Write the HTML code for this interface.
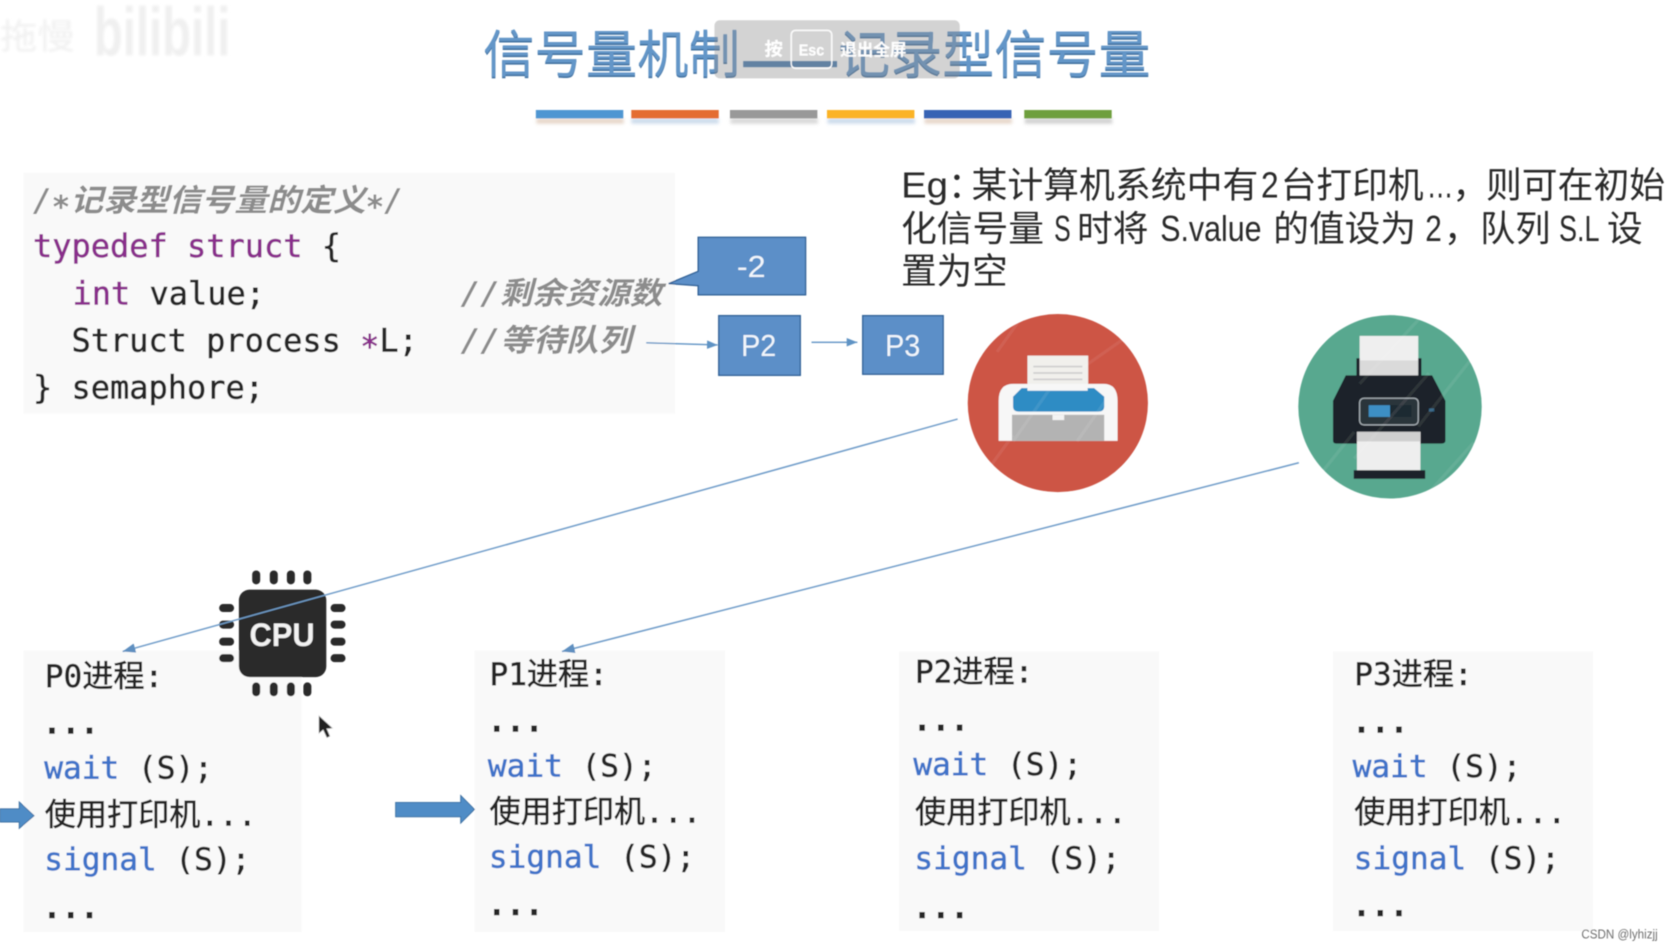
<!DOCTYPE html>
<html lang="zh">
<head>
<meta charset="utf-8">
<title>信号量机制——记录型信号量</title>
<style>
html,body{margin:0;padding:0;background:#fff;width:1671px;height:949px;overflow:hidden}
svg{display:block;position:absolute;left:0;top:0}
text{white-space:pre}
.m{font-family:"DejaVu Sans Mono","Noto Sans CJK SC",monospace;font-size:30px;fill:#252525;stroke:#252525;stroke-width:.55px}
.p{font-family:"DejaVu Sans Mono","Noto Sans CJK SC",monospace;font-size:29.2px;fill:#252525;stroke:#252525;stroke-width:.55px}
.d{stroke-width:1.5px}
.kw{fill:#8a2f8c;stroke:#8a2f8c}
.bl{fill:#3f73c9;stroke:#3f73c9}
.c{font-family:"DejaVu Sans Mono","Noto Sans CJK SC",monospace;font-size:29px;font-style:italic;font-weight:bold;fill:#8c8c8c}
.e{font-family:"Liberation Sans","Noto Sans CJK SC",sans-serif;font-size:33.5px;fill:#2a2a2a}
.b{font-family:"Liberation Sans",sans-serif;font-size:29px;fill:#f2f6fb}
.t{font-family:"Noto Sans CJK SC",sans-serif;font-size:48px}
</style>
</head>
<body>
<svg width="1671" height="949" viewBox="0 0 1567 890" preserveAspectRatio="none" xmlns="http://www.w3.org/2000/svg">
<defs>
<filter id="s" x="-5%" y="-5%" width="110%" height="110%"><feGaussianBlur stdDeviation="0.55"/></filter>
<filter id="w" x="-10%" y="-10%" width="120%" height="120%"><feGaussianBlur stdDeviation="1.2"/></filter>
<filter id="r" x="-10%" y="-100%" width="120%" height="400%"><feGaussianBlur stdDeviation="1.5"/></filter>
<marker id="a" markerWidth="12" markerHeight="10" refX="10" refY="4" orient="auto" markerUnits="userSpaceOnUse"><path d="M0 0L10 4L0 8z" fill="#5f93c4"/></marker>
<marker id="a2" markerWidth="14" markerHeight="10" refX="12" refY="4.5" orient="auto" markerUnits="userSpaceOnUse"><path d="M0 0L12 4.5L0 9z" fill="#5f8fc0"/></marker>
</defs>
<rect width="1567" height="890" fill="#fff"/>
<g filter="url(#s)">

<!-- watermark -->
<g filter="url(#w)" fill="#f0f0f0" font-family="Liberation Sans,Noto Sans CJK SC,sans-serif">
<text x="0" y="46" font-family="Noto Sans CJK SC,sans-serif" font-size="33" textLength="70" lengthAdjust="spacingAndGlyphs">拖慢</text>
<text x="88" y="52" font-size="64" font-weight="bold" textLength="128" lengthAdjust="spacingAndGlyphs">bilibili</text>
</g>

<!-- title -->
<g fill="#3f6f9f">
<text class="t" x="453" y="69.5" textLength="241" lengthAdjust="spacingAndGlyphs">信号量机制</text>
<text class="t" x="786" y="69.5" textLength="293" lengthAdjust="spacingAndGlyphs">记录型信号量</text>
</g>
<g fill="#6496c8">
<text class="t" x="453" y="68" textLength="241" lengthAdjust="spacingAndGlyphs">信号量机制</text>
<text class="t" x="786" y="68" textLength="293" lengthAdjust="spacingAndGlyphs">记录型信号量</text>
</g>
<text class="t" x="696" y="73.5" fill="#4a7cb0" stroke="#4a7cb0" stroke-width="2.6" textLength="90" lengthAdjust="spacingAndGlyphs">——</text>

<!-- esc overlay -->
<rect x="670" y="19" width="230" height="54.5" rx="5" fill="#8c8c8c" fill-opacity=".38"/>
<rect x="742" y="28.5" width="38" height="35.5" rx="4" fill="none" stroke="#fff" stroke-width="1.2"/>
<g fill="#fff" font-weight="bold" font-family="Noto Sans CJK SC,sans-serif" font-size="17">
<text x="717" y="52">按</text>
<text x="749" y="52" font-size="15" textLength="24" lengthAdjust="spacingAndGlyphs" font-family="Liberation Sans,sans-serif">Esc</text>
<text x="788" y="52" font-size="15.5" textLength="62" lengthAdjust="spacingAndGlyphs">退出全屏</text>
</g>

<!-- colour bars -->
<g filter="url(#r)" opacity=".45">
<rect x="503" y="111" width="82" height="5" fill="#c9a58a"/>
<rect x="592" y="111" width="82" height="5" fill="#8fb0d4"/>
<rect x="685" y="111" width="82" height="5" fill="#aaa"/>
<rect x="776" y="111" width="82" height="5" fill="#8fb0d4"/>
<rect x="867" y="111" width="82" height="5" fill="#c9a58a"/>
<rect x="961" y="111" width="82" height="5" fill="#999"/>
</g>
<rect x="502.5" y="103" width="82" height="8" fill="#5096d2"/>
<rect x="592" y="103" width="82" height="8" fill="#e46d32"/>
<rect x="684.5" y="103" width="82" height="8" fill="#999999"/>
<rect x="775.5" y="103" width="82" height="8" fill="#fbb325"/>
<rect x="866.5" y="103" width="82" height="8" fill="#3763b4"/>
<rect x="960.5" y="103" width="82" height="8" fill="#6e9f3c"/>

<!-- code block -->
<rect x="22" y="162" width="611" height="226" fill="#f9f9f9"/>
<text class="c" x="31" y="198"><tspan>/</tspan><tspan dy="6">*</tspan><tspan dy="-6" textLength="277" lengthAdjust="spacingAndGlyphs">记录型信号量的定义</tspan><tspan dy="6">*</tspan><tspan dy="-6">/</tspan></text>
<text class="m" x="31" y="241"><tspan class="kw">typedef</tspan> <tspan class="kw">struct</tspan> {</text>
<text class="m" x="68" y="285.5"><tspan class="kw">int</tspan> value;</text>
<text class="m" x="67" y="329.5">Struct process <tspan class="kw" dy="6">*</tspan><tspan dy="-6">L;</tspan></text>
<text class="m" x="31" y="373.5">} semaphore;</text>
<text class="c" x="432" y="285" textLength="189" lengthAdjust="spacingAndGlyphs">//剩余资源数</text>
<text class="c" x="432" y="329" textLength="160" lengthAdjust="spacingAndGlyphs">//等待队列</text>

<!-- value + queue nodes -->
<path d="M654.7 222.5H755.5V276.5H654.7V268L627 266L654.7 254.5Z" fill="#5b8fc8" stroke="#2e5f94" stroke-width="1.2"/>
<text class="b" x="691" y="260" textLength="27" lengthAdjust="spacingAndGlyphs">-2</text>
<rect x="674" y="296" width="76.5" height="56" fill="#5b8fc8" stroke="#2e5f94" stroke-width="1.2"/>
<text class="b" x="695" y="334" textLength="33" lengthAdjust="spacingAndGlyphs">P2</text>
<rect x="809" y="296" width="75.5" height="55" fill="#5b8fc8" stroke="#2e5f94" stroke-width="1.2"/>
<text class="b" x="830" y="334" textLength="33" lengthAdjust="spacingAndGlyphs">P3</text>
<line x1="606" y1="321.5" x2="673" y2="323.5" stroke="#5f93c4" stroke-width="1.3" marker-end="url(#a)"/>
<line x1="761" y1="321" x2="804" y2="321" stroke="#5f93c4" stroke-width="1.3" marker-end="url(#a)"/>

<!-- Eg text -->
<text class="e" x="845" y="185" textLength="44" lengthAdjust="spacingAndGlyphs">Eg</text>
<text class="e" x="889" y="185">：</text>
<text class="e" x="911" y="185" textLength="269" lengthAdjust="spacingAndGlyphs">某计算机系统中有</text>
<text class="e" x="1182.5" y="185" textLength="16.5" lengthAdjust="spacingAndGlyphs">2</text>
<text class="e" x="1201" y="185" textLength="134" lengthAdjust="spacingAndGlyphs">台打印机</text>
<text class="e" x="1338" y="185" textLength="25" lengthAdjust="spacingAndGlyphs">…</text>
<text class="e" x="1362" y="185">，</text>
<text class="e" x="1393.5" y="185" textLength="168" lengthAdjust="spacingAndGlyphs">则可在初始</text>

<text class="e" x="845" y="226" textLength="134" lengthAdjust="spacingAndGlyphs">化信号量</text>
<text class="e" x="988.5" y="226" textLength="15.5" lengthAdjust="spacingAndGlyphs">S</text>
<text class="e" x="1010" y="226" textLength="67" lengthAdjust="spacingAndGlyphs">时将</text>
<text class="e" x="1088" y="226" textLength="95" lengthAdjust="spacingAndGlyphs">S.value</text>
<text class="e" x="1194" y="226" textLength="134" lengthAdjust="spacingAndGlyphs">的值设为</text>
<text class="e" x="1336.5" y="226" textLength="15.5" lengthAdjust="spacingAndGlyphs">2</text>
<text class="e" x="1354" y="226">，</text>
<text class="e" x="1388" y="226" textLength="66" lengthAdjust="spacingAndGlyphs">队列</text>
<text class="e" x="1462" y="226" textLength="38" lengthAdjust="spacingAndGlyphs">S.L</text>
<text class="e" x="1507" y="226" textLength="33.5" lengthAdjust="spacingAndGlyphs">设</text>

<text class="e" x="845" y="266" textLength="100" lengthAdjust="spacingAndGlyphs">置为空</text>

<!-- red printer -->
<ellipse cx="992" cy="378" rx="84.5" ry="83.5" fill="#cd5444"/>
<rect x="963.5" y="333.5" width="57" height="33" fill="#f1f0ec"/>
<rect x="969" y="343" width="46" height="1.6" fill="#cfcfcf"/>
<rect x="969" y="349" width="46" height="1.6" fill="#cfcfcf"/>
<rect x="969" y="355" width="46" height="1.6" fill="#cfcfcf"/>
<path d="M936.5 376Q936.5 360 950 360H1035Q1048 360 1048 376V413.5H936.5Z" fill="#f7f7f7"/>
<path d="M950 372L958 364H963.5V366.5H1020V364H1026L1035.5 372V381Q1035.5 386 1030 386H955Q950 386 950 381Z" fill="#2f8cc4"/>
<rect x="949" y="389" width="86.5" height="24.5" fill="#b3b3b3"/>
<rect x="987" y="389" width="11" height="5" fill="#f3f3f3"/>
<g stroke="#ffffff" stroke-opacity=".08" stroke-width="3" fill="none">
<path d="M935 330L972 278"/><path d="M1015 345L1072 305"/><path d="M950 414L985 364"/><path d="M1010 414L1045 364"/><path d="M918 452L950 408"/><path d="M1040 455L1075 410"/>
</g>

<!-- green printer -->
<ellipse cx="1303.5" cy="381.5" rx="86" ry="86" fill="#58a88f"/>
<rect x="1275" y="315" width="55" height="32" fill="#efefef"/>
<rect x="1275" y="338" width="55" height="17" fill="#dadada"/>
<rect x="1272" y="336" width="3" height="18" fill="#1c2329"/>
<rect x="1330" y="336" width="3" height="18" fill="#1c2329"/>
<path d="M1262 352H1343L1355.5 376V413Q1355.5 416 1352 416H1253Q1250 416 1250 413V376Z" fill="#1c2329"/>
<rect x="1275" y="373.5" width="55" height="25" rx="4" fill="#2c343b" stroke="#a5adb3" stroke-width="1.2"/>
<rect x="1283.5" y="380" width="20" height="11" fill="#3d8fc4"/>
<rect x="1303.5" y="380" width="20" height="11" fill="#1f2a33"/>
<rect x="1340" y="383" width="5" height="3" fill="#2e5f80"/>
<rect x="1272.5" y="405" width="59.5" height="37" fill="#eeeeee"/>
<rect x="1272.5" y="405" width="59.5" height="9" fill="#cfcfcf"/>
<rect x="1269.5" y="441" width="67" height="8" fill="#1c2329"/>
<g stroke="#ffffff" stroke-opacity=".08" stroke-width="3" fill="none">
<path d="M1222 345L1270 280"/><path d="M1275 360L1330 300"/><path d="M1330 400L1385 330"/><path d="M1270 430L1340 350"/><path d="M1230 455L1270 405"/><path d="M1340 462L1382 415"/>
</g>

<!-- panels -->
<rect x="22" y="610" width="261" height="264" fill="#f9f9f9"/>
<rect x="445" y="610" width="235" height="264" fill="#f9f9f9"/>
<rect x="843" y="611" width="244" height="262" fill="#f9f9f9"/>
<rect x="1250" y="611" width="244" height="262" fill="#f9f9f9"/>

<!-- CPU -->
<g fill="#2b2b2b">
<rect x="224" y="553" width="82" height="82" rx="10"/>
<rect x="236.5" y="535" width="7.5" height="13" rx="3.7"/><rect x="253" y="535" width="7.5" height="13" rx="3.7"/><rect x="269" y="535" width="7.5" height="13" rx="3.7"/><rect x="284.5" y="535" width="7.5" height="13" rx="3.7"/>
<rect x="236.5" y="640" width="7.5" height="13" rx="3.7"/><rect x="253" y="640" width="7.5" height="13" rx="3.7"/><rect x="269" y="640" width="7.5" height="13" rx="3.7"/><rect x="284.5" y="640" width="7.5" height="13" rx="3.7"/>
<rect x="205.5" y="566.5" width="14" height="7.5" rx="3.7"/><rect x="205.5" y="582" width="14" height="7.5" rx="3.7"/><rect x="205.5" y="598" width="14" height="7.5" rx="3.7"/><rect x="205.5" y="613.5" width="14" height="7.5" rx="3.7"/>
<rect x="310" y="566.5" width="14" height="7.5" rx="3.7"/><rect x="310" y="582" width="14" height="7.5" rx="3.7"/><rect x="310" y="598" width="14" height="7.5" rx="3.7"/><rect x="310" y="613.5" width="14" height="7.5" rx="3.7"/>
</g>
<text x="234" y="606" font-family="Liberation Sans,sans-serif" font-weight="bold" font-size="30" fill="#f2f2f2" textLength="61" lengthAdjust="spacingAndGlyphs">CPU</text>

<!-- long connectors -->
<line x1="898" y1="393" x2="115" y2="611" stroke="#6f9cc9" stroke-width="1.4" marker-end="url(#a2)"/>
<line x1="1218" y1="434" x2="527" y2="611" stroke="#6f9cc9" stroke-width="1.4" marker-end="url(#a2)"/>

<!-- P0 -->
<text class="p" x="42" y="644.5">P0进程:</text>
<text class="p d" x="40" y="687.5">...</text>
<text class="p" x="41.5" y="730"><tspan class="bl">wait</tspan> (S);</text>
<text class="p" x="42" y="774">使用打印机...</text>
<text class="p" x="41.5" y="816"><tspan class="bl">signal</tspan> (S);</text>
<text class="p d" x="40" y="860.5">...</text>

<!-- P1 -->
<text class="p" x="459" y="642.5">P1进程:</text>
<text class="p d" x="457" y="685.5">...</text>
<text class="p" x="457.5" y="728"><tspan class="bl">wait</tspan> (S);</text>
<text class="p" x="459" y="771.5">使用打印机...</text>
<text class="p" x="458.5" y="813.5"><tspan class="bl">signal</tspan> (S);</text>
<text class="p d" x="457" y="857.5">...</text>

<!-- P2 -->
<text class="p" x="858" y="640">P2进程:</text>
<text class="p d" x="856" y="684.5">...</text>
<text class="p" x="856.5" y="727"><tspan class="bl">wait</tspan> (S);</text>
<text class="p" x="858" y="772">使用打印机...</text>
<text class="p" x="857.5" y="815"><tspan class="bl">signal</tspan> (S);</text>
<text class="p d" x="856" y="860.5">...</text>

<!-- P3 -->
<text class="p" x="1270" y="642.5">P3进程:</text>
<text class="p d" x="1268" y="686.5">...</text>
<text class="p" x="1268.5" y="728.5"><tspan class="bl">wait</tspan> (S);</text>
<text class="p" x="1270" y="772">使用打印机...</text>
<text class="p" x="1269.5" y="815"><tspan class="bl">signal</tspan> (S);</text>
<text class="p d" x="1268" y="858.5">...</text>

<!-- thick block arrows -->
<path d="M0 758.5H18V752L32 765L18 777V771H0Z" fill="#4f8cc6" stroke="#3a6c9e" stroke-width=".8"/>
<path d="M371 752.5H432V746L445 759L432 772V766H371Z" fill="#4f8cc6" stroke="#3a6c9e" stroke-width=".8"/>

<!-- cursor -->
<path d="M299 671V688L303 684.5L306.5 692L309.5 690.5L306.5 683.5L312 683Z" fill="#222" stroke="#ddd" stroke-width=".6"/>

<!-- credit -->
<text x="1483" y="880" font-family="Liberation Sans,sans-serif" font-size="12" fill="#6e6e6e" textLength="71.5" lengthAdjust="spacingAndGlyphs">CSDN @lyhizjj</text>
</g>
</svg>
</body>
</html>
